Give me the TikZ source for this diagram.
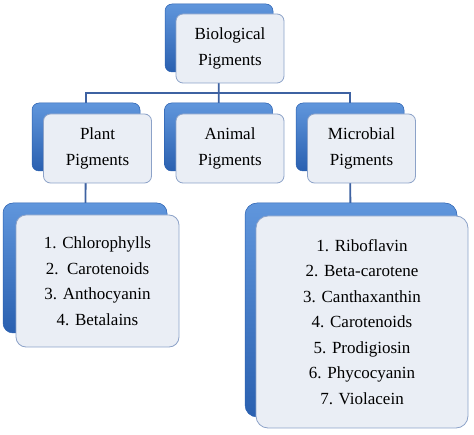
\documentclass[tikz,border=0pt]{standalone}
\usepackage{fontspec}
\setmainfont{Liberation Serif}
\usetikzlibrary{backgrounds}

\definecolor{blueTop}{RGB}{96,150,220}
\definecolor{blueBot}{RGB}{42,96,176}
\definecolor{paleFill}{RGB}{234,238,245}
\definecolor{paleEdge}{RGB}{140,162,200}
\definecolor{linkBlue}{RGB}{62,98,162}

\begin{document}
\begin{tikzpicture}[x=1pt, y=-1pt,
  back/.style={rounded corners=7pt, top color=blueTop, bottom color=blueBot, draw=blueBot, line width=.5pt, inner sep=0pt},
  front/.style={rounded corners=7pt, fill=paleFill, draw=paleEdge, line width=.8pt, inner sep=0pt, align=center, font=\fontsize{17}{25.5}\selectfont},
  link/.style={draw=linkBlue, line width=1.8pt}]

\useasboundingbox (0,0) rectangle (474,435);

% top
\node[back, minimum width=108pt, minimum height=68pt] (bioB) at (219,38) {};
\node[front, minimum width=108pt, minimum height=69pt] (bioF) at (230,48.5) {Biological\\Pigments};

% second row
\foreach \n/\x/\t in {plant/86/Plant, anim/218.5/Animal, micro/350/Microbial} {
	\node[back, minimum width=108pt, minimum height=68pt] (\n B) at (\x,137) {};
	\node[front, minimum width=108pt, minimum height=69pt] (\n F) at (\x+11.5,148.5) {\t\\Pigments};
}

% lists
\node[back, rounded corners=10pt, minimum width=164pt, minimum height=130pt] (plantLB) at (85,268) {};
\node[front, rounded corners=10pt, minimum width=163pt, minimum height=132pt] (plantLF) at (97.5,281)
	{1. Chlorophylls\\2.\ \ Carotenoids\\3. Anthocyanin\\4. Betalains};
\node[back, rounded corners=12pt, minimum width=212pt, minimum height=214pt] (microLB) at (351,310) {};
\node[front, rounded corners=12pt, minimum width=212pt, minimum height=212pt] (microLF) at (362,322)
	{1. Riboflavin\\2. Beta-carotene\\3. Canthaxanthin\\4. Carotenoids\\5. Prodigiosin\\6. Phycocyanin\\7. Violacein};

\begin{scope}[on background layer]
\draw[link] (bioB.center) -- (animB.center);
\draw[link] (plantB.north) -- ++(0,-10) -| (microB.north);
\draw[link] (plantB.center) -- (plantLB.center);
\draw[link] (microB.center) -- (microLB.center);
\end{scope}

\end{tikzpicture}
\end{document}
